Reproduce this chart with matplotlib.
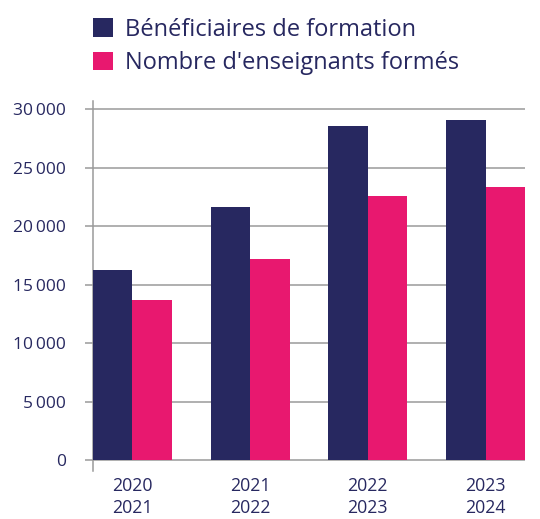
import matplotlib
matplotlib.use("Agg")
import matplotlib.pyplot as plt
import numpy as np

# données
periodes = ["2020\n2021", "2021\n2022", "2022\n2023", "2023\n2024"]
beneficiaires = [16300, 21650, 28600, 29100]
enseignants = [13700, 17200, 22600, 23400]
graduations = [0, 5000, 10000, 15000, 20000, 25000, 30000]

NAVY = "#272860"
PINK = "#e8186f"
GRID = "#9a9a9a"

plt.rcParams["font.family"] = ["Open Sans", "DejaVu Sans"]

fig = plt.figure(figsize=(5.4, 5.19), dpi=100)
ax = fig.add_axes([0.1722, 0.0925, 0.8, 0.7129])

x = np.arange(len(periodes))
w = 0.335
ax.bar(x - w / 2, beneficiaires, w, color=NAVY, label="Bénéficiaires de formation", zorder=3)
ax.bar(x + w / 2, enseignants, w, color=PINK, label="Nombre d'enseignants formés", zorder=3)

ax.set_xlim(-w, len(periodes) - 1 + w)
ax.set_ylim(-915, 30710)
ax.set_yticks(graduations)
ax.set_yticklabels([f"{v:,}".replace(",", "\u2009") for v in graduations])
ax.set_xticks(x)
ax.set_xticklabels(periodes, linespacing=1.3)

ax.grid(axis="y", color=GRID, linewidth=1.1, zorder=0)
ax.set_axisbelow(True)
for s in ["top", "right", "bottom"]:
    ax.spines[s].set_visible(False)
ax.spines["left"].set_color(GRID)
ax.spines["left"].set_linewidth(1.1)

ax.tick_params(axis="y", length=5.8, width=1.1, color=GRID, pad=13.5,
               labelsize=12.5, labelcolor=NAVY)
ax.tick_params(axis="x", length=0, pad=4, labelsize=12.8, labelcolor=NAVY)

leg = fig.legend(loc="upper left", bbox_to_anchor=(0.172, 0.966), frameon=False,
                 fontsize=17, handlelength=0.85, handleheight=0.85,
                 handletextpad=0.5, labelspacing=0.4, borderpad=0, borderaxespad=0)
for t in leg.get_texts():
    t.set_color(NAVY)

fig.savefig("out.png", dpi=100)
